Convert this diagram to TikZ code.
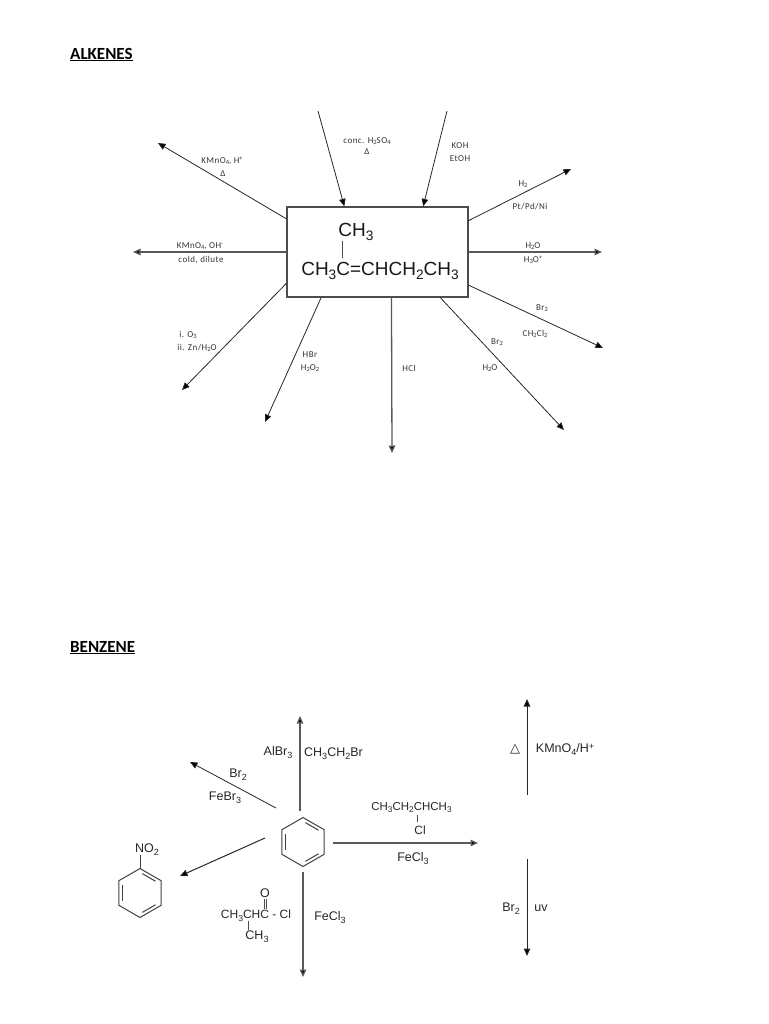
\documentclass[tikz,border=0pt]{standalone}
\usepackage{fontspec}
\usepackage{graphicx}
\setmainfont{Liberation Sans}
\newfontfamily\smallfont[LetterSpace=5]{Carlito}
\newfontfamily\headfont{Carlito}
\newfontfamily\symfont{DejaVu Sans}
\usetikzlibrary{arrows.meta,calc}
\newcommand{\dn}[1]{\raisebox{-.4ex}{\scalebox{.72}{#1}}}
\newcommand{\up}[1]{\raisebox{.55ex}{\scalebox{.72}{#1}}}
\newcommand{\benzring}[1]{
    \draw[ringline] ($(#1)+(-90:24.5)$) \foreach \ang in {-30,30,...,210} {-- ($(#1)+(\ang:24.5)$)} -- cycle;
    \foreach \ang in {-90,30,150} {
        \draw[ringline] ($(#1)+(\ang+7:19.5)$) -- ($(#1)+(\ang+53:19.5)$);
    }
}
\tikzset{
    rxn/.style={draw=black!85, line width=.8pt, -{Triangle[length=7.5pt,width=6.5pt,fill=black]}},
    rxnthick/.style={rxn, draw=black!65, line width=1.3pt},
    ringline/.style={draw=black!75, line width=1pt},
    bondline/.style={draw=black!70, line width=.6pt},
    heading/.style={font=\fontsize{17}{19}\headfont\bfseries, inner sep=0pt, anchor=west, yshift=-1.5pt},
    cond/.style={font=\fontsize{9}{10}\smallfont, text=black!80, inner sep=0pt, yshift=-1pt},
    chem/.style={font=\fontsize{12.5}{14}\selectfont, text=black!85, inner sep=0pt, yshift=-.5pt},
    formula/.style={font=\fontsize{19}{22}\selectfont, text=black!90, inner sep=0pt},
}
\begin{document}
\begin{tikzpicture}[x=1pt,y=-1pt]
    \useasboundingbox (0,0) rectangle (768,1024);

    \node[heading] (alkenes) at (70,53) {\underline{ALKENES}};
    \node[heading] (benzene) at (70,646) {\underline{BENZENE}};

    \node[draw=black!70, line width=1.3pt, minimum width=181pt, minimum height=90pt, inner sep=0pt] (mol) at (377.5,252) {};
    \node[formula] (mola) at (356,232) {CH\dn{3}};
    \node[formula] (molb) at (380,271) {CH\dn{3}C=CHCH\dn{2}CH\dn{3}};
    \draw[bondline] (342,241) -- (342,258);

    \coordinate (t1) at (158,143);
    \coordinate (t2) at (133,252);
    \coordinate (t3) at (182,390);
    \coordinate (t4) at (265,422);
    \coordinate (t5) at (392,453);
    \coordinate (t6) at (564,430);
    \coordinate (t7) at (603,348);
    \coordinate (t8) at (602,252);
    \coordinate (t9) at (571,169);
    \coordinate (s1) at (318,111);
    \coordinate (s2) at (447,111);

    \draw[rxn] (mol.160.5) -- (t1);
    \draw[rxnthick] (mol.west) -- (t2);
    \draw[rxn] (mol.199.5) -- (t3);
    \draw[rxn] (mol.219.5) -- (t4);
    \draw[rxnthick] (mol.287.9) -- (t5);
    \draw[rxn] (mol.324.7) -- (t6);
    \draw[rxn] (mol.340.5) -- (t7);
    \draw[rxnthick] (mol.east) -- (t8);
    \draw[rxn] (mol.19.5) -- (t9);
    \draw[rxn] (s1) -- (mol.126.7);
    \draw[rxn] (s2) -- (mol.45.3);

    \node[cond] (l1) at (222,160) {KMnO\dn{4}, H\up{+}};
    \node[cond] (l2) at (223,173) {Δ};
    \node[cond] (l3) at (200,245) {KMnO\dn{4}, OH\up{-}};
    \node[cond] (l4) at (201,259) {cold, dilute};
    \node[cond] (l5) at (367,140) {conc. H\dn{2}SO\dn{4}};
    \node[cond] (l6) at (367,151) {Δ};
    \node[cond] (l7) at (460,145) {KOH};
    \node[cond] (l8) at (460,158) {EtOH};
    \node[cond] (l9) at (523,183) {H\dn{2}};
    \node[cond] (l10) at (530,206) {Pt/Pd/Ni};
    \node[cond] (l11) at (533,245) {H\dn{2}O};
    \node[cond] (l12) at (533,259) {H\dn{3}O\up{+}};
    \node[cond] (l13) at (542,307) {Br\dn{2}};
    \node[cond] (l14) at (535,333) {CH\dn{2}Cl\dn{2}};
    \node[cond] (l15) at (497,341) {Br\dn{2}};
    \node[cond] (l16) at (490,367) {H\dn{2}O};
    \node[cond] (l17) at (188,334) {i. O\dn{3}};
    \node[cond] (l18) at (197,347) {ii. Zn/H\dn{2}O};
    \node[cond] (l19) at (310,354) {HBr};
    \node[cond] (l20) at (310,367) {H\dn{2}O\dn{2}};
    \node[cond] (l21) at (409,367) {HCl};

    \coordinate (ringa) at (303,842);
    \coordinate (ringb) at (140,893);
    \benzring{ringa}
    \benzring{ringb}
    \node[chem] (no) at (147,849) {NO\dn{2}};
    \draw[ringline] (no.south -| ringb) -- ($(ringb)+(-90:24.5)$);

    \coordinate (b1) at (300,811);
    \coordinate (b2) at (300,716);
    \coordinate (b3) at (276,808);
    \coordinate (b4) at (190,762);
    \coordinate (b5) at (265,838);
    \coordinate (b6) at (180,876);
    \coordinate (b7) at (303,872);
    \coordinate (b8) at (303,977);
    \coordinate (b9) at (333,843);
    \coordinate (b10) at (478,843);
    \coordinate (c1) at (527,795);
    \coordinate (c2) at (527,699);
    \coordinate (c3) at (527,859);
    \coordinate (c4) at (527,956);

    \draw[rxnthick] (b1) -- (b2);
    \draw[rxn] (b3) -- (b4);
    \draw[rxn, line width=1pt] (b5) -- (b6);
    \draw[rxnthick] (b7) -- (b8);
    \draw[rxnthick] (b9) -- (b10);
    \draw[rxn, line width=1pt] (c1) -- (c2);
    \draw[rxn, line width=1pt] (c3) -- (c4);

    \node[chem] (albr) at (278,752) {AlBr\dn{3}};
    \node[chem] (etbr) at (333.5,753) {CH\dn{3}CH\dn{2}Br};
    \node[chem] (brb) at (238,774) {Br\dn{2}};
    \node[chem] (febr) at (225,797) {FeBr\dn{3}};
    \node[chem, font=\fontsize{11.5}{14}\selectfont] (buc) at (411.5,807) {CH\dn{3}CH\dn{2}CHCH\dn{3}};
    \node[chem, font=\fontsize{12}{14}\selectfont] (cl) at (420,830) {Cl};
    \draw[bondline] (417,815) -- (417,822);
    \node[chem] (fecla) at (413,858) {FeCl\dn{3}};
    \node[chem] (tri) at (515,749) {\symfont\fontsize{13}{14}\selectfont △};
    \node[chem] (kmn) at (565,749) {KMnO\dn{4}/H\up{+}};
    \node[chem] (brc) at (511,908) {Br\dn{2}};
    \node[chem] (uv) at (541,908) {uv};
    \node[chem] (feclb) at (330,917) {FeCl\dn{3}};
    \node[chem, font=\fontsize{12}{14}\selectfont] (acyl) at (256,915) {CH\dn{3}CHC - Cl};
    \node[chem] (oxo) at (265,893) {O};
    \node[chem] (me) at (257,936) {CH\dn{3}};
    \draw[bondline] (264,899) -- (264,909);
    \draw[bondline] (266.5,899) -- (266.5,909);
    \draw[bondline] (248,921) -- (248,930);
\end{tikzpicture}
\end{document}
